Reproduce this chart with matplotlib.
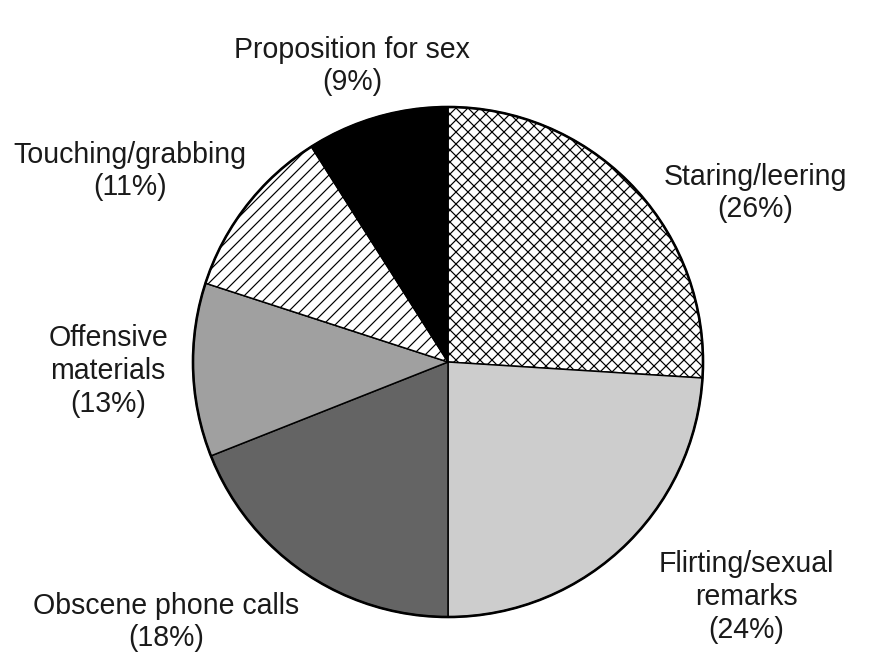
import matplotlib
matplotlib.use("Agg")
import matplotlib.pyplot as plt
from matplotlib.patches import Circle

# ---- data ----
categories = ["Staring/leering", "Flirting/sexual\nremarks", "Obscene phone calls",
              "Offensive\nmaterials", "Touching/grabbing", "Proposition for sex"]
label_percent = [26, 24, 18, 13, 11, 9]          # printed in the labels
wedge_share = [26, 24, 19, 11, 11, 9]            # as drawn (wedge angles)

# ---- styles ----
fills = ["white", "#cdcdcd", "#646464", "#a0a0a0", "white", "black"]
hatches = ["xx", None, None, None, "//", None]
# label centres in image pixel coords (x, y from top)
label_xy = [(755, 193), (746, 597), (166, 622), (108, 371), (130, 171), (352, 66)]

W, H, DPI = 879, 667, 72
plt.rcParams["font.family"] = ["Liberation Sans", "DejaVu Sans"]
plt.rcParams["hatch.linewidth"] = 1.2
plt.rcParams["hatch.color"] = "black"

fig = plt.figure(figsize=(W / DPI, H / DPI), dpi=DPI)
ax = fig.add_axes([0, 0, 1, 1])

cx, cy, r = 448, H - 362, 255
wedges, _ = ax.pie(wedge_share, startangle=90, counterclock=False,
                   colors=fills, center=(cx, cy), radius=r,
                   wedgeprops=dict(edgecolor="black", linewidth=1.5))
for w, h in zip(wedges, hatches):
    if h:
        w.set_hatch(h)

ax.add_patch(Circle((cx, cy), r, fill=False, edgecolor="black", linewidth=2.6, zorder=5))

for cat, p, (x, y) in zip(categories, label_percent, label_xy):
    ax.text(x, H - y, f"{cat}\n({p}%)", ha="center", va="center",
            fontsize=28.5, color="#1a1a1a", linespacing=1.22)

ax.set_xlim(0, W)
ax.set_ylim(0, H)
ax.set_aspect("equal")
ax.axis("off")
fig.savefig("out.png", dpi=DPI, facecolor="white")
